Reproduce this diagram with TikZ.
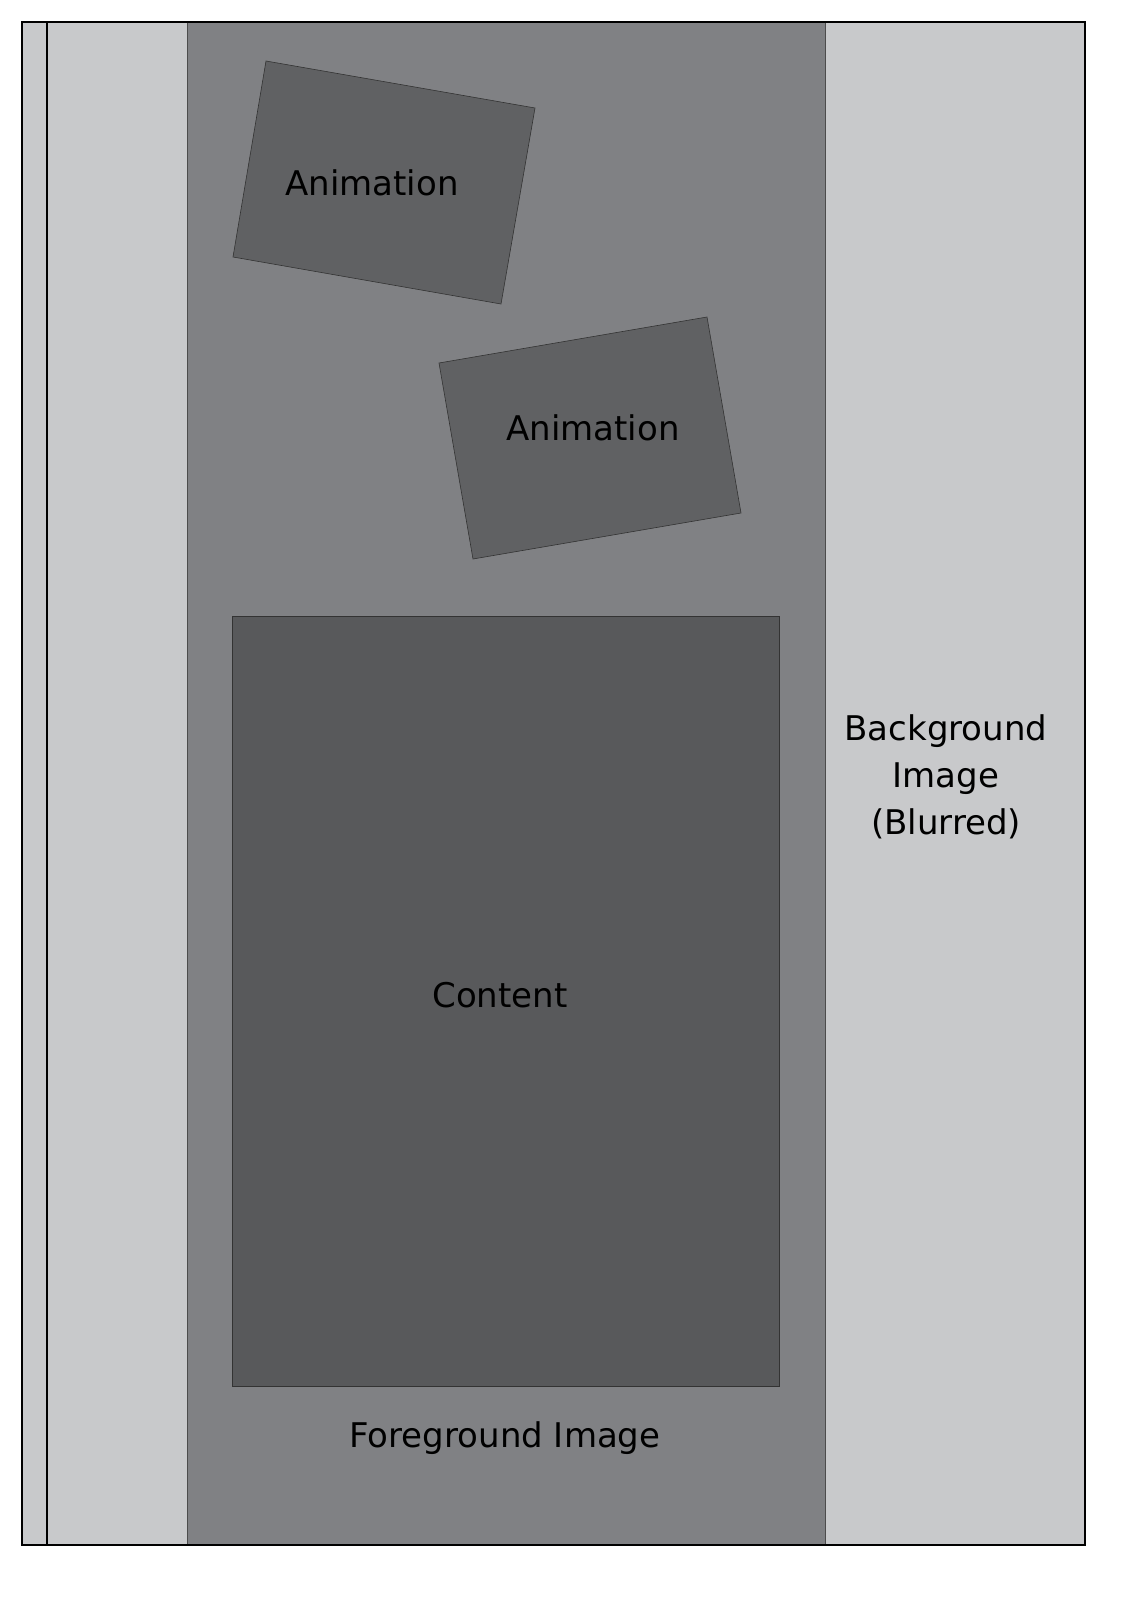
\documentclass[tikz,border=0pt]{standalone}
\usepackage{fontspec}
\setmainfont{DejaVu Sans}
\definecolor{bglight}{HTML}{C8C9CB}
\definecolor{band}{HTML}{808184}
\definecolor{anim}{HTML}{606163}
\definecolor{content}{HTML}{58595B}
\tikzset{lbl/.style={font=\fontsize{34}{47}\selectfont, text=black, align=center},
 box/.style={draw=black!80, line width=0.6pt}}
\begin{document}
\begin{tikzpicture}[x=1pt,y=-1pt]
\useasboundingbox (0,0) rectangle (1130,1600);
\fill[white] (0,0) rectangle (1130,1600);
\draw[fill=bglight, line width=1.4pt] (22,22) rectangle (1085,1545);
\fill[band] (187,22.7) rectangle (825,1544.3);
\draw[line width=0.5pt, black!70] (187,22.7) -- (187,1544.3) (825,22.7) -- (825,1544.3);
\draw[line width=1.2pt] (47,22) -- (47,1545);
\draw[box, fill=anim] (266,61) -- (535,108) -- (501,304) -- (233,257) -- cycle;
\draw[box, fill=anim] (439,363) -- (707,317) -- (741,513) -- (473,559) -- cycle;
\draw[box, fill=content] (232,616) rectangle (779,1386);
\node[lbl] (a1) at (372,183) {Animation};
\node[lbl] (a2) at (593,428) {Animation};
\node[lbl] (c) at (500,995) {Content};
\node[lbl] (f) at (505,1438) {Foreground Image};
\node[lbl] (b) at (946,777) {Background\\Image\\(Blurred)};
\end{tikzpicture}
\end{document}
